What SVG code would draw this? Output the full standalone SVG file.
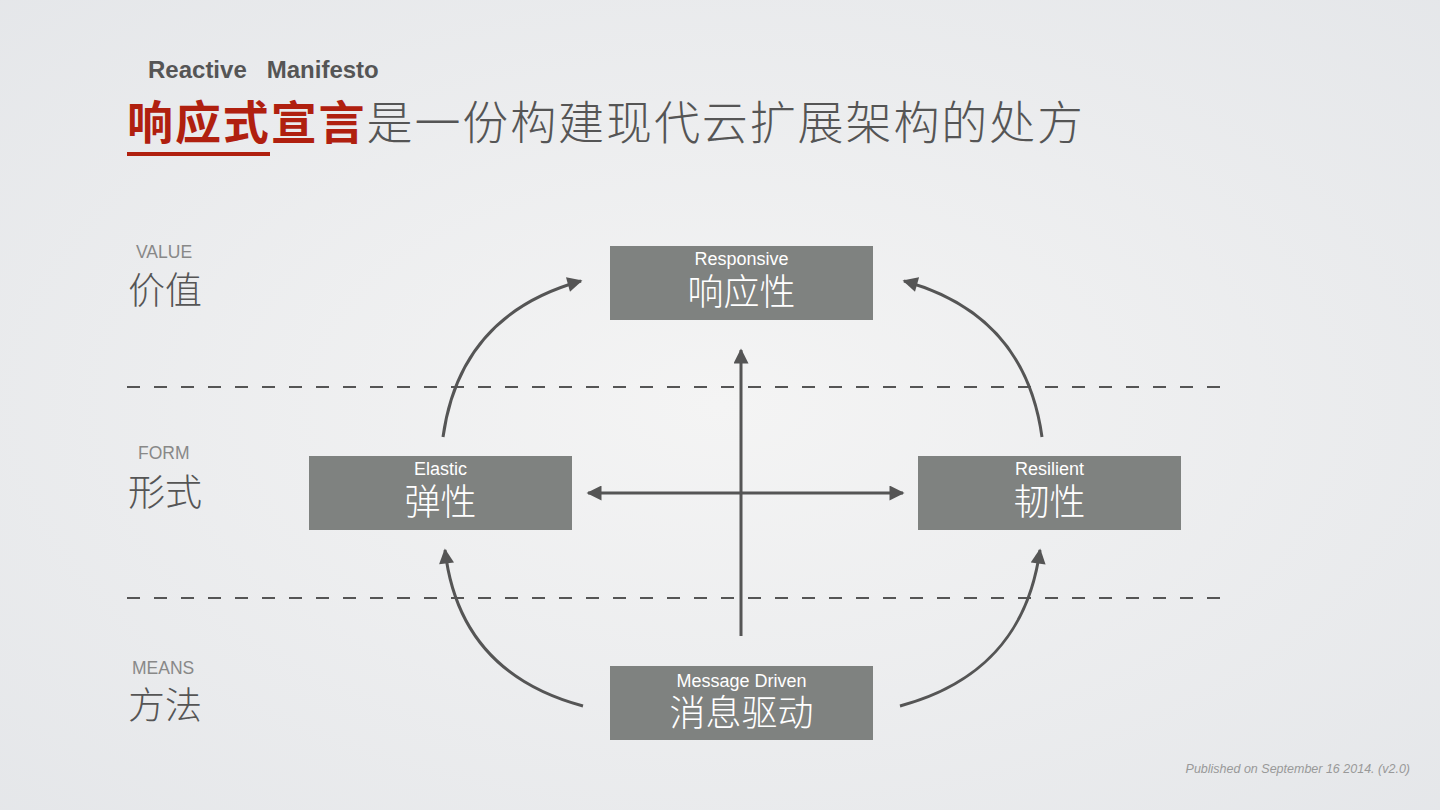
<svg xmlns="http://www.w3.org/2000/svg" width="1440" height="810" viewBox="0 0 1440 810">
<defs>
<radialGradient id="bg" cx="50%" cy="50%" r="75%">
<stop offset="0" stop-color="#f4f4f4"/>
<stop offset="1" stop-color="#e4e6e9"/>
</radialGradient>
<marker id="ah" viewBox="0 0 10 10" refX="9" refY="5" markerWidth="5.5" markerHeight="5" orient="auto" markerUnits="strokeWidth">
<path d="M0,0 L10,5 L0,10 z" fill="#555"/>
</marker>
<style>
.box{fill:#7f8280}
.en{font-family:"Liberation Sans",Arial,sans-serif;fill:#fff;font-size:18px;text-anchor:middle}
.zh{font-family:"Noto Sans CJK SC",sans-serif;font-weight:300;fill:#fff;font-size:36px;text-anchor:middle}
.lab{font-family:"Liberation Sans",Arial,sans-serif;fill:#888;font-size:17.5px}
.labzh{font-family:"Noto Sans CJK SC",sans-serif;font-weight:300;fill:#555;font-size:37px}
.dash{stroke:#555;stroke-width:2;stroke-dasharray:13 14;fill:none}
.arr{stroke:#555;stroke-width:3;fill:none;marker-end:url(#ah)}
</style>
</defs>
<rect width="1440" height="810" fill="url(#bg)"/>
<text x="148" y="78" font-family="Liberation Sans, Arial, sans-serif" font-weight="bold" font-size="24" fill="#555" xml:space="preserve">Reactive   Manifesto</text>
<text x="127" y="139" font-family="Noto Sans CJK SC, sans-serif" font-size="46" letter-spacing="1.9"><tspan fill="#b0200f" font-weight="bold">响应式宣言</tspan><tspan fill="#555" font-weight="300">是一份构建现代云扩展架构的处方</tspan></text>
<rect x="127" y="152" width="143" height="4" fill="#b0200f"/>
<g id="labels">
<text class="lab" x="136" y="258">VALUE</text>
<text class="labzh" x="128" y="304">价值</text>
<text class="lab" x="138" y="459">FORM</text>
<text class="labzh" x="128" y="506">形式</text>
<text class="lab" x="132" y="674">MEANS</text>
<text class="labzh" x="128" y="719">方法</text>
</g>
<g id="connectors">
<line class="dash" x1="127" y1="387" x2="1222" y2="387"/>
<line class="dash" x1="127" y1="598" x2="1222" y2="598"/>
<line class="arr" x1="741" y1="636" x2="741" y2="350"/>
<line class="arr" x1="741" y1="493" x2="588" y2="493"/>
<line class="arr" x1="741" y1="493" x2="903" y2="493"/>
<path class="arr" d="M443,437 C455,350 505,302 581,281"/>
<path class="arr" d="M1042,437 C1030,350 980,302 904,281"/>
<path class="arr" d="M583,706 C505,685 455,637 445,550"/>
<path class="arr" d="M900,706 C978,685 1028,637 1040,550"/>
</g>
<g id="responsive">
<rect class="box" x="610" y="246" width="263" height="74"/>
<text class="en" x="741.5" y="265">Responsive</text>
<text class="zh" x="741.5" y="305">响应性</text>
</g>
<g id="elastic">
<rect class="box" x="309" y="456" width="263" height="74"/>
<text class="en" x="440.5" y="475">Elastic</text>
<text class="zh" x="440.5" y="515">弹性</text>
</g>
<g id="resilient">
<rect class="box" x="918" y="456" width="263" height="74"/>
<text class="en" x="1049.5" y="475">Resilient</text>
<text class="zh" x="1049.5" y="515">韧性</text>
</g>
<g id="message-driven">
<rect class="box" x="610" y="666" width="263" height="74"/>
<text class="en" x="741.5" y="687">Message Driven</text>
<text class="zh" x="741.5" y="726">消息驱动</text>
</g>
<text x="1410" y="773" text-anchor="end" font-family="Liberation Sans, Arial, sans-serif" font-style="italic" font-size="12.5" fill="#999">Published on September 16 2014. (v2.0)</text>
</svg>
